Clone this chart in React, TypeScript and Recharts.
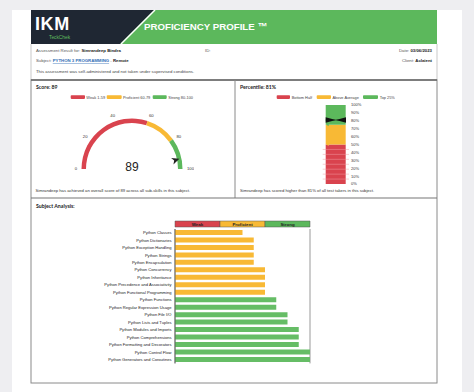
import React from 'react';
import {
  BarChart, Bar, XAxis, YAxis, CartesianGrid, Cell, LabelList,
  RadialBarChart, RadialBar, PolarAngleAxis, PieChart, Pie, ReferenceLine,
} from 'recharts';

// ---------- data ----------
const skills = [
  'Python Classes',
  'Python Dictionaries',
  'Python Exception Handling',
  'Python Strings',
  'Python Encapsulation',
  'Python Concurrency',
  'Python Inheritance',
  'Python Precedence and Associativity',
  'Python Functional Programming',
  'Python Functions',
  'Python Regular Expression Usage',
  'Python File I/O',
  'Python Lists and Tuples',
  'Python Modules and Imports',
  'Python Comprehensions',
  'Python Formatting and Decorators',
  'Python Control Flow',
  'Python Generators and Coroutines',
];
const skillScores = [1.5, 1.75, 1.75, 1.75, 1.75, 2, 2, 2, 2, 2.25, 2.25, 2.5, 2.5, 2.75, 2.75, 2.75, 3, 3];
const skillTicks = [0, 1, 2, 3];
const bandNames = ['Weak', 'Proficient', 'Strong'];
const bandSpan = [1, 1, 1];

const gaugeNames = ['Weak', 'Proficient', 'Strong'];
const gaugeLegend = ['Weak 1-59', 'Proficient 60-79', 'Strong 80-100'];
const gaugeBands = [60, 20, 20];
const gaugeTicks = [0, 20, 40, 60, 80, 100];
const overallScore = 89;

const pctNames = ['Bottom Half', 'Above Average', 'Top 25%'];
const pctBands = [50, 25, 25];
const pctTicks = [0, 10, 20, 30, 40, 50, 60, 70, 80, 90, 100];
const pctStripes = [6.25, 12.5, 18.75, 25, 31.25, 37.5, 43.75];
const pctMarks = [50, 75];
const percentile = 81;

// ---------- styles ----------
const RED = '#d9434e';
const ORANGE = '#f8b935';
const GREEN = '#5cb85c';
const BAR_GREEN = '#66bd66';
const FONT = '"Liberation Sans", Arial, sans-serif';
const HFONT = 'Lato, "Open Sans", sans-serif';
const LINE = '#8a8a8a';

const skillData = skills.map((name, i) => ({ name, score: skillScores[i] }));
const bandRow: any = { name: 'Sub-Skills' };
bandNames.forEach((b, i) => { bandRow[b] = bandSpan[i]; });
const gaugeRow: any = { name: 'score' };
gaugeNames.forEach((g, i) => { gaugeRow[g] = gaugeBands[i]; });
const needleData = [{ name: 'score', value: overallScore }, { name: 'rest', value: 100 - overallScore }];
const pctRow: any = { name: 'pct' };
pctNames.forEach((p, i) => { pctRow[p] = pctBands[i]; });
const bandColors = [RED, ORANGE, GREEN];

const renderNeedle = (p: any) => {
  if (p.index !== 0) return null;
  const a = (p.endAngle * Math.PI) / 180;
  const { cx, cy } = p;
  const pt = (r: number, off: number) => {
    const dx = Math.cos(a), dy = -Math.sin(a);
    const px = Math.sin(a), py = Math.cos(a);
    return `${cx + dx * r + px * off},${cy + dy * r + py * off}`;
  };
  return (
    <polygon
      points={[pt(45, 0), pt(37.5, 3.4), pt(39.5, 0), pt(37.5, -3.4)].join(' ')}
      fill="#222"
    />
  );
};

const SkillTick = (p: any) => (
  <text x={p.x - 1.5} y={p.y} dy={1.4} textAnchor="end" fontSize={4.1} fill="#222" fontFamily={FONT}>
    {p.payload.value}
  </text>
);

const HeadTick = (p: any) => (
  <text x={p.x - 6} y={p.y} dy={1.2} textAnchor="end" fontSize={4.4} fontWeight={700} fill="#111" fontFamily={FONT}>
    {p.payload.value}
  </text>
);

const T = ({ x, y, s = 4.3, w = 400, c = '#444', a = 'start', f = FONT, children }: any) => (
  <text x={x} y={y} fontSize={s} fontWeight={w} fill={c} textAnchor={a} fontFamily={f}>
    {children}
  </text>
);

const Swatch = ({ x, y, w, c }: any) => <rect x={x} y={y} width={w} height={3.6} rx={0.8} fill={c} />;

export default function App() {
  return (
    <div style={{ position: 'absolute', left: 0, top: 0, width: 474, height: 392, background: '#eeeef1', overflow: 'hidden' }}>
      <svg width={474} height={392} style={{ position: 'absolute', left: 0, top: 0 }}>
        <rect x={12} y={10} width={450} height={385} fill="#ffffff" />
        {/* header */}
        <rect x={118} y={10} width={319} height={34} fill={GREEN} />
        <polygon points="31,10 154,10 120,44 31,44" fill="#1f2733" />
        <line x1={155} y1={10} x2={121} y2={44} stroke="#ffffff" strokeWidth={1.4} />
        <text x={35} y={30} fontSize={18} fontWeight={700} fill="#fff" fontFamily={FONT} letterSpacing={0.6}>IKM</text>
        <text x={49} y={38.5} fontSize={4.8} fill="#5fbf5f" fontFamily={FONT}>TeckChek</text>
        <text x={144} y={29.5} fontSize={9.7} fontWeight={700} fill="#fff" fontFamily={FONT}>PROFICIENCY PROFILE ™</text>
        {/* info box */}
        <line x1={31} y1={44} x2={31} y2={80} stroke="#bbb" strokeWidth={0.8} />
        <line x1={437} y1={44} x2={437} y2={80} stroke="#bbb" strokeWidth={0.8} />
        <T x={36} y={51.5} c="#555">Assessment Result for: <tspan fontWeight={700} fill="#222">Simrandeep Bindra</tspan></T>
        <T x={205} y={51.5} c="#555">ID:</T>
        <T x={432} y={51.5} a="end" c="#555">Date: <tspan fontWeight={700} fill="#222">03/06/2023</tspan></T>
        <T x={36} y={62.2} c="#555">Subject: <tspan fontWeight={700} fill="#2f6db5" textDecoration="underline">PYTHON 3 PROGRAMMING</tspan> - <tspan fontWeight={700} fill="#222">Remote</tspan></T>
        <T x={432} y={62.2} a="end" c="#555">Client: <tspan fontWeight={700} fill="#222">Aclaient</tspan></T>
        <T x={36} y={72.6} c="#444">This assessment was self-administered and not taken under supervised conditions.</T>
        {/* panels */}
        <rect x={31} y={80} width={406} height={303} fill="none" stroke={LINE} strokeWidth={1} />
        <line x1={31} y1={80} x2={437} y2={80} stroke="#666" strokeWidth={1.3} />
        <line x1={235} y1={80} x2={235} y2={198} stroke={LINE} strokeWidth={1} />
        <line x1={31} y1={198} x2={437} y2={198} stroke="#777" strokeWidth={1.2} />
        <T x={36} y={89} s={5.2} w={700} c="#222" f={HFONT}>Score: 89</T>
        <T x={240} y={89} s={5.2} w={700} c="#222" f={HFONT}>Percentile: 81%</T>
        <T x={36} y={208} s={5.2} w={700} c="#222" f={HFONT}>Subject Analysis:</T>
        {/* gauge legend */}
        <Swatch x={70.7} y={95.3} w={14.3} c={RED} />
        <T x={86.3} y={98.6} s={3.9}>{gaugeLegend[0]}</T>
        <Swatch x={106.7} y={95.3} w={15} c={ORANGE} />
        <T x={123} y={98.6} s={3.9}>{gaugeLegend[1]}</T>
        <Swatch x={152.7} y={95.3} w={14} c={GREEN} />
        <T x={168.3} y={98.6} s={3.9}>{gaugeLegend[2]}</T>
        {/* percentile legend */}
        <Swatch x={276.7} y={95.3} w={13.3} c={RED} />
        <T x={291.7} y={98.6} s={3.9}>{pctNames[0]}</T>
        <Swatch x={316.7} y={95.3} w={14.3} c={ORANGE} />
        <T x={332.5} y={98.6} s={3.9}>{pctNames[1]}</T>
        <Swatch x={363} y={95.3} w={15} c={GREEN} />
        <T x={379.7} y={98.6} s={3.9}>{pctNames[2]}</T>
        {/* gauge value */}
        <T x={132} y={171} s={12} c="#222" a="middle">{String(overallScore)}</T>
        {/* sentences */}
        <T x={35.5} y={191.5} s={4.2} c="#333">Simrandeep has achieved an overall score of 89 across all sub-skills in this subject.</T>
        <T x={240} y={191.5} s={4.2} c="#333">Simrandeep has scored higher than 81% of all test takers in this subject.</T>
      </svg>

      {/* gauge arcs + ticks */}
      <div style={{ position: 'absolute', left: 70, top: 105 }}>
        <RadialBarChart width={124} height={75} cx={62} cy={64} innerRadius={46} outerRadius={51}
          startAngle={180} endAngle={0} data={[gaugeRow]} barSize={5}>
          <PolarAngleAxis type="number" domain={[0, 100]} ticks={gaugeTicks} axisLine={false} tickLine={false}
            tickSize={4} tick={{ fontSize: 4.2, fill: '#333', fontFamily: FONT }} />
          {gaugeNames.map((g, i) => (
            <RadialBar key={g} dataKey={g} stackId="g" fill={bandColors[i]} isAnimationActive={false} />
          ))}
        </RadialBarChart>
      </div>
      {/* gauge needle */}
      <div style={{ position: 'absolute', left: 70, top: 105 }}>
        <PieChart width={124} height={75}>
          <Pie data={needleData} dataKey="value" cx={62} cy={64} startAngle={180} endAngle={0}
            innerRadius={36} outerRadius={44} stroke="none" isAnimationActive={false}
            labelLine={false} label={renderNeedle}>
            {needleData.map((d, i) => <Cell key={i} fill="transparent" />)}
          </Pie>
        </PieChart>
      </div>

      {/* percentile bar */}
      <div style={{ position: 'absolute', left: 320, top: 100 }}>
        <BarChart width={60} height={90} data={[pctRow]} margin={{ top: 5, right: 4, bottom: 6, left: 5.7 }} barCategoryGap={0}>
          <XAxis dataKey="name" hide />
          <YAxis orientation="right" domain={[0, 100]} ticks={pctTicks} tickFormatter={(v: number) => `${v}%`}
            axisLine={false} tickLine={false} tickSize={0} tickMargin={5} width={30} interval={0}
            tick={{ fontSize: 4, fill: '#333', fontFamily: FONT }} />
          {pctNames.map((p, i) => (
            <Bar key={p} dataKey={p} stackId="p" fill={bandColors[i]} isAnimationActive={false} />
          ))}
          {pctStripes.map((v) => (
            <ReferenceLine key={v} y={v} shape={(s: any) => (
              <line x1={s.x1 + 3} x2={s.x2 - 3} y1={s.y1} y2={s.y2} stroke="#f19aa0" strokeWidth={0.5} />
            )} />
          ))}
          {pctMarks.map((v, i) => (
            <ReferenceLine key={'m' + v} y={v} ifOverflow="visible" shape={(s: any) => (
              <polygon points={`${s.x2 + 0.6},${s.y2} ${s.x2 + 3},${s.y2 - 1.4} ${s.x2 + 3},${s.y2 + 1.4}`}
                fill={bandColors[i + 1]} />
            )} />
          ))}
          <ReferenceLine y={percentile} ifOverflow="visible" shape={(s: any) => {
            const xm = (s.x1 + s.x2) / 2;
            return (
              <g>
                <polygon points={`${s.x1},${s.y1 - 2.7} ${s.x1},${s.y1 + 2.7} ${xm},${s.y1}`} fill="#111" />
                <polygon points={`${s.x2},${s.y2 - 2.7} ${s.x2},${s.y2 + 2.7} ${xm},${s.y2}`} fill="#111" />
                <line x1={s.x1} x2={s.x2} y1={s.y1} y2={s.y2} stroke="#111" strokeWidth={0.5} />
              </g>
            );
          }} />
        </BarChart>
      </div>

      {/* sub-skill header band */}
      <div style={{ position: 'absolute', left: 95, top: 219 }}>
        <BarChart width={225} height={10} layout="vertical" data={[bandRow]}
          margin={{ top: 2, right: 10, bottom: 2.5, left: 0 }} barCategoryGap={0}>
          <XAxis type="number" domain={[0, 3]} hide />
          <YAxis type="category" dataKey="name" width={80} axisLine={false} tickLine={false} tickSize={0}
            tick={HeadTick} />
          {bandNames.map((b, i) => (
            <Bar key={b} dataKey={b} stackId="b" fill={bandColors[i]} stroke="#555" strokeWidth={0.5} isAnimationActive={false}>
              <LabelList dataKey={b} position="center" formatter={() => b} fill="#222" fontSize={4.4} fontWeight={700} fontFamily={FONT} />
            </Bar>
          ))}
        </BarChart>
      </div>

      {/* sub-skill bars */}
      <div style={{ position: 'absolute', left: 95, top: 225 }}>
        <BarChart width={225} height={145} layout="vertical" data={skillData}
          margin={{ top: 4, right: 10, bottom: 0, left: 0 }} barSize={5}>
          <CartesianGrid horizontal={false} stroke="#555" strokeWidth={0.6} />
          <XAxis type="number" domain={[0, 3]} ticks={skillTicks} tick={false} axisLine={false}
            tickSize={3} tickLine={{ stroke: '#555', strokeWidth: 0.6 }} height={6.6} />
          <YAxis type="category" dataKey="name" width={80} interval={0} tickLine={false} tickSize={0}
            axisLine={{ stroke: '#555', strokeWidth: 0.8 }} tick={SkillTick} />
          <Bar dataKey="score" isAnimationActive={false}>
            {skillData.map((d, i) => <Cell key={i} fill={d.score > 2 ? BAR_GREEN : ORANGE} />)}
          </Bar>
        </BarChart>
      </div>
    </div>
  );
}
